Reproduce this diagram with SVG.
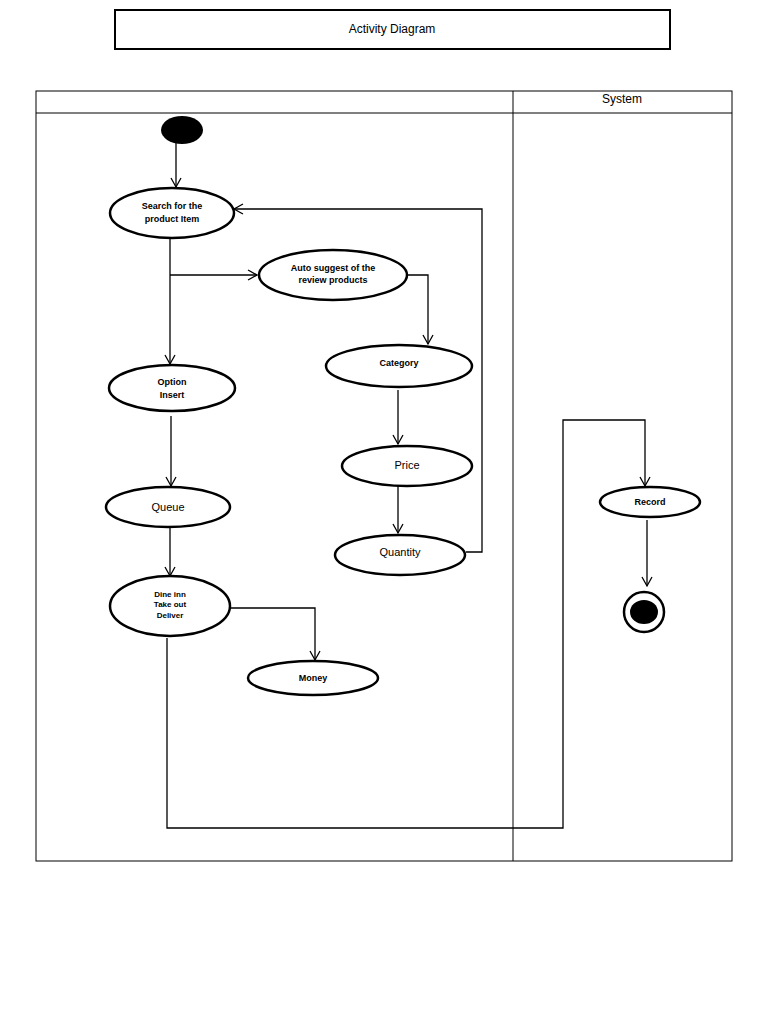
<svg xmlns="http://www.w3.org/2000/svg" width="768" height="1024" viewBox="0 0 768 1024">
<defs>
<marker id="a" markerWidth="12" markerHeight="12" refX="10" refY="6" orient="auto" markerUnits="userSpaceOnUse"><path d="M1,1 L10,6 L1,11" fill="none" stroke="#000" stroke-width="1.3"/></marker>
<style>
.n{fill:#fff;stroke:#000;stroke-width:2.5}
.t{font-family:"Liberation Sans",Arial,sans-serif;font-size:9px;font-weight:bold;text-anchor:middle}
.c{fill:none;stroke:#000;stroke-width:1.3;marker-end:url(#a)}
.p{fill:none;stroke:#000;stroke-width:1.3}
</style>
</defs>
<rect width="768" height="1024" fill="#fff"/>
<g id="title"><rect x="115" y="10" width="555" height="39" fill="#fff" stroke="#000" stroke-width="2"/><text x="392" y="33" font-family="Liberation Sans,Arial,sans-serif" font-size="12" text-anchor="middle">Activity Diagram</text></g>
<g id="frame" fill="none" stroke="#000" stroke-width="1"><rect x="36" y="91" width="696" height="770"/><line x1="36" y1="113" x2="732" y2="113"/><line x1="513" y1="91" x2="513" y2="861"/></g>
<text x="622" y="103" font-family="Liberation Sans,Arial,sans-serif" font-size="12" text-anchor="middle">System</text>
<g id="connectors">
<path class="c" d="M176,140 V187"/>
<path class="c" d="M170,238 V364"/>
<path class="c" d="M170,275 H257"/>
<path class="c" d="M408,275 H428 V344"/>
<path class="c" d="M398,390 V444"/>
<path class="c" d="M398,486 V533"/>
<path class="c" d="M466,552 H482 V209 H234"/>
<path class="c" d="M171,416 V486"/>
<path class="c" d="M170,528 V576"/>
<path class="c" d="M231,608 H315 V660"/>
<path class="c" d="M167,638 V828 H563 V420 H645 V486"/>
<path class="c" d="M647,520 V586"/>
</g>
<g id="start"><ellipse cx="182" cy="130" rx="21" ry="14"/></g>
<g id="search"><ellipse class="n" cx="172" cy="213" rx="62" ry="25"/><text class="t" x="172" y="209">Search for the</text><text class="t" x="172" y="222">product Item</text></g>
<g id="auto"><ellipse class="n" cx="333" cy="275" rx="74" ry="25"/><text class="t" x="333" y="271">Auto suggest of the</text><text class="t" x="333" y="283">review products</text></g>
<g id="category"><ellipse class="n" cx="399" cy="366" rx="73" ry="21"/><text class="t" x="399" y="366">Category</text></g>
<g id="option"><ellipse class="n" cx="172" cy="388" rx="63" ry="23"/><text class="t" x="172" y="385">Option</text><text class="t" x="172" y="398">Insert</text></g>
<g id="price"><ellipse class="n" cx="407" cy="466" rx="65" ry="20"/><text class="t" x="407" y="469" style="font-weight:normal;font-size:11px">Price</text></g>
<g id="queue"><ellipse class="n" cx="168" cy="507" rx="62" ry="20"/><text class="t" x="168" y="511" style="font-weight:normal;font-size:11px">Queue</text></g>
<g id="quantity"><ellipse class="n" cx="400" cy="555" rx="65" ry="20"/><text class="t" x="400" y="556" style="font-weight:normal;font-size:11px">Quantity</text></g>
<g id="dine"><ellipse class="n" cx="170" cy="606" rx="60" ry="30"/><text class="t" x="170" y="597" style="font-size:8px">Dine inn</text><text class="t" x="170" y="607" style="font-size:8px">Take out</text><text class="t" x="170" y="618" style="font-size:8px">Deliver</text></g>
<g id="money"><ellipse class="n" cx="313" cy="678" rx="65" ry="17"/><text class="t" x="313" y="681">Money</text></g>
<g id="record"><ellipse class="n" cx="650" cy="502" rx="50" ry="15"/><text class="t" x="650" y="505">Record</text></g>
<g id="end"><circle cx="644" cy="612" r="20" fill="#fff" stroke="#000" stroke-width="2.5"/><ellipse cx="644" cy="612" rx="14" ry="12"/></g>
</svg>
